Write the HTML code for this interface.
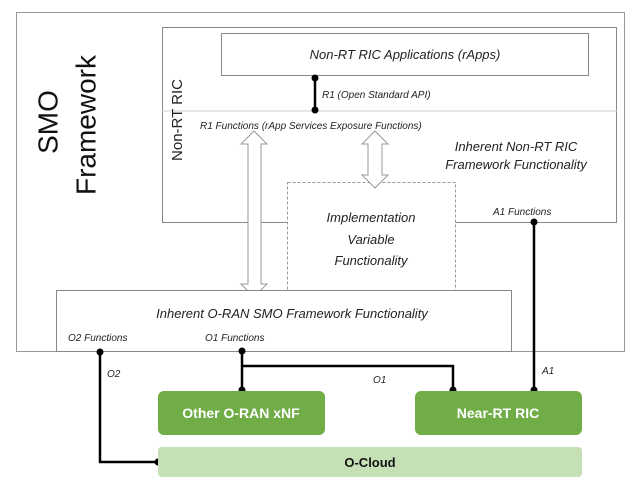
<!DOCTYPE html>
<html><head><meta charset="utf-8"><style>
body{margin:0;background:#fff}
svg text{font-family:"Liberation Sans","DejaVu Sans",sans-serif}
.i{font-style:italic;fill:#222}
</style></head><body>
<svg width="640" height="487" viewBox="0 0 640 487" xmlns="http://www.w3.org/2000/svg">
<rect x="16.5" y="12.5" width="608" height="339" fill="#fff" stroke="#999" stroke-width="1"/>
<text x="50" y="122" font-size="28" text-anchor="middle" dominant-baseline="middle" transform="rotate(-90 50 122)" fill="#111">SMO</text>
<text x="88" y="125" font-size="28" text-anchor="middle" dominant-baseline="middle" transform="rotate(-90 88 125)" fill="#111">Framework</text>
<rect x="162.5" y="27.5" width="454" height="195" fill="#fff" stroke="#888" stroke-width="1"/>
<line x1="162" y1="111" x2="617" y2="111" stroke="#ccc" stroke-width="1"/>
<text x="178" y="120" font-size="15" text-anchor="middle" dominant-baseline="middle" transform="rotate(-90 178 120)" fill="#222">Non-RT RIC</text>
<rect x="221.5" y="33.5" width="367" height="42" fill="#fff" stroke="#888"/>
<text x="405" y="59" font-size="13" class="i" text-anchor="middle">Non-RT RIC Applications (rApps)</text>
<line x1="315" y1="78" x2="315" y2="110" stroke="#000" stroke-width="2.5"/>
<circle cx="315" cy="78" r="3.5"/><circle cx="315" cy="110" r="3.5"/>
<text x="322" y="98" font-size="10" class="i">R1 (Open Standard API)</text>
<text x="200" y="129" font-size="10" class="i">R1 Functions (rApp Services Exposure Functions)</text>
<text x="516" y="151" font-size="13" class="i" text-anchor="middle">Inherent Non-RT RIC</text>
<text x="516" y="169" font-size="13" class="i" text-anchor="middle">Framework Functionality</text>
<rect x="287.5" y="182.5" width="168" height="108" fill="#fff" stroke="#999" stroke-dasharray="3,2"/>
<text x="371" y="222" font-size="13" class="i" text-anchor="middle">Implementation</text>
<text x="371" y="244" font-size="13" class="i" text-anchor="middle">Variable</text>
<text x="371" y="265" font-size="13" class="i" text-anchor="middle">Functionality</text>
<polygon points="254,131 267,144 261,144 261,284 267,284 254,297 241,284 248,284 248,144 241,144" fill="#fff" stroke="#999"/>
<polygon points="375,131 388,144 382,144 382,175 388,175 375,188 362,175 368,175 368,144 362,144" fill="#fff" stroke="#999"/>
<text x="493" y="215" font-size="10" class="i">A1 Functions</text>
<rect x="56.5" y="290.5" width="455" height="61" fill="#fff" stroke="#888"/>
<text x="292" y="318" font-size="13" class="i" text-anchor="middle">Inherent O-RAN SMO Framework Functionality</text>
<text x="68" y="341" font-size="10" class="i">O2 Functions</text>
<text x="205" y="341" font-size="10" class="i">O1 Functions</text>
<g stroke="#000" stroke-width="2.5" fill="none">
<line x1="534" y1="222" x2="534" y2="391"/>
<polyline points="100,352 100,462 158,462"/>
<line x1="242" y1="351" x2="242" y2="391"/>
<polyline points="242,366 453,366 453,391"/>
</g>
<circle cx="534" cy="222" r="3.5"/><circle cx="534" cy="390" r="3.5"/>
<circle cx="100" cy="352" r="3.5"/><circle cx="158" cy="462" r="3.5"/>
<circle cx="242" cy="351" r="3.5"/><circle cx="242" cy="390" r="3.5"/><circle cx="453" cy="390" r="3.5"/>
<text x="107" y="377" font-size="10" class="i">O2</text>
<text x="373" y="383" font-size="10" class="i">O1</text>
<text x="542" y="374" font-size="10" class="i">A1</text>
<rect x="158" y="391" width="167" height="44" rx="6" fill="#70ad47"/>
<text x="241" y="418" font-size="14" font-weight="bold" fill="#fff" text-anchor="middle">Other O-RAN xNF</text>
<rect x="415" y="391" width="167" height="44" rx="6" fill="#70ad47"/>
<text x="498" y="418" font-size="14" font-weight="bold" fill="#fff" text-anchor="middle">Near-RT RIC</text>
<rect x="158" y="447" width="424" height="30" rx="4" fill="#c5e0b4"/>
<text x="370" y="467" font-size="13" font-weight="bold" fill="#111" text-anchor="middle">O-Cloud</text>
</svg>
</body></html>
